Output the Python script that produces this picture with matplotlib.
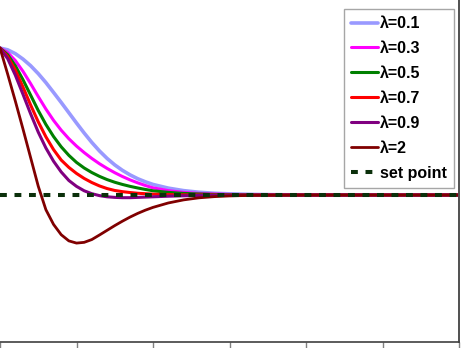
import matplotlib
matplotlib.use("Agg")
import matplotlib.pyplot as plt

# Common time grid (arbitrary time units, ticks every 1 unit)
t = [0.0, 0.1, 0.2, 0.3, 0.4, 0.5, 0.6, 0.7, 0.8, 0.9, 1.0, 1.1, 1.2, 1.3,
     1.4, 1.5, 1.6, 1.7, 1.8, 1.9, 2.0, 2.2, 2.4, 2.6, 2.8, 3.0, 3.3, 3.6,
     4.0, 5.0, 6.0]

# Closed-loop responses for different filter constants lambda
y_l01 = [1.0, 0.988, 0.962, 0.925, 0.880, 0.826, 0.765, 0.698, 0.630, 0.560,
         0.490, 0.422, 0.358, 0.300, 0.249, 0.205, 0.168, 0.137, 0.111, 0.090,
         0.072, 0.047, 0.030, 0.019, 0.012, 0.008, 0.004, 0.002, 0.001, 0.0,
         0.0]
y_l03 = [1.0, 0.970, 0.915, 0.842, 0.758, 0.670, 0.585, 0.508, 0.441, 0.383,
         0.333, 0.289, 0.249, 0.213, 0.181, 0.152, 0.126, 0.103, 0.083, 0.065,
         0.049, 0.030, 0.018, 0.011, 0.007, 0.004, 0.002, 0.001, 0.0, 0.0,
         0.0]
y_l05 = [1.0, 0.955, 0.880, 0.785, 0.680, 0.575, 0.480, 0.398, 0.328, 0.270,
         0.222, 0.184, 0.153, 0.127, 0.105, 0.087, 0.072, 0.059, 0.048, 0.038,
         0.029, 0.018, 0.011, 0.007, 0.004, 0.003, 0.001, 0.0, 0.0, 0.0,
         0.0]
y_l07 = [1.0, 0.942, 0.850, 0.735, 0.613, 0.498, 0.396, 0.309, 0.238, 0.188,
         0.147, 0.113, 0.085, 0.062, 0.044, 0.031, 0.023, 0.017, 0.012, 0.009,
         0.006, 0.003, 0.001, 0.0, 0.0, 0.0, 0.0, 0.0, 0.0, 0.0,
         0.0]
y_l09 = [1.0, 0.928, 0.816, 0.686, 0.553, 0.428, 0.320, 0.230, 0.157, 0.099,
         0.059, 0.029, 0.009, -0.004, -0.012, -0.016, -0.018, -0.018, -0.016,
         -0.014, -0.012, -0.008, -0.005, -0.003, -0.002, -0.001, 0.0, 0.0, 0.0,
         0.0, 0.0]
y_l2 = [1.0, 0.823, 0.640, 0.450, 0.255, 0.060, -0.100, -0.200, -0.270,
        -0.312, -0.327, -0.322, -0.303, -0.272, -0.240, -0.208, -0.178, -0.150,
        -0.125, -0.103, -0.084, -0.054, -0.033, -0.019, -0.011, -0.006, -0.002,
        -0.001, 0.0, 0.0, 0.0]

labels = ["λ=0.1", "λ=0.3", "λ=0.5", "λ=0.7", "λ=0.9", "λ=2"]
colors = ["#9999FF", "#FF00FF", "#008000", "#FF0000", "#800080", "#800000"]
widths = [2.6, 2.2, 2.2, 2.2, 2.2, 2.0]
series = [y_l01, y_l03, y_l05, y_l07, y_l09, y_l2]

set_point_t = [0.0, 6.0]
set_point_y = [0.0, 0.0]

W, H = 474, 348
fig = plt.figure(figsize=(W / 100, H / 100), dpi=100)
ax = fig.add_axes([0.0, 6 / H, 459 / W, 342 / H])

for y, lab, c, lw in zip(series, labels, colors, widths):
    ax.plot(t, y, color=c, lw=lw, label=lab, solid_capstyle="round",
            solid_joinstyle="round")

ax.plot(set_point_t, set_point_y, color="#0B300B", lw=2.9,
        dashes=(1.7, 1.9), label="set point")

ax.set_xlim(0, 6)
ax.set_ylim(-1.0, 1.327)
ax.set_xticks(range(0, 7))
ax.set_xticklabels([])
ax.set_yticks([])
ax.tick_params(axis="x", direction="out", length=5, width=1, color="#808080")

ax.spines["top"].set_visible(False)
ax.spines["left"].set_visible(False)
ax.spines["bottom"].set_color("#404040")
ax.spines["bottom"].set_linewidth(1.2)
ax.spines["right"].set_color("#505050")
ax.spines["right"].set_linewidth(1.4)

leg = ax.legend(loc="upper right", bbox_to_anchor=(454 / 459, (342 - 9) / 342),
                borderaxespad=0, frameon=True, fancybox=False,
                prop={"family": "Liberation Sans", "weight": "bold", "size": 11.5},
                handlelength=1.65, handletextpad=0.15, labelspacing=0.62,
                borderpad=0.45)
leg.get_frame().set_edgecolor("#909090")
leg.get_frame().set_linewidth(1.0)

fig.savefig("out.png", dpi=100)
